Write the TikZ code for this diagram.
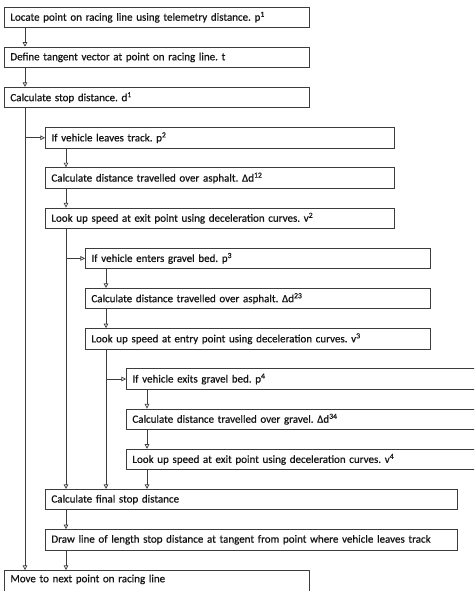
\documentclass[tikz,border=0pt]{standalone}
\usepackage{fontspec}
\setmainfont[FakeBold=0.6]{Carlito}
\usepackage{xcolor}
\usetikzlibrary{arrows.meta}
\tikzset{>={Triangle[open,length=4.6pt,width=4.6pt,line width=0.7pt]}}
\definecolor{linegray}{HTML}{3C3C3C}
\definecolor{textgray}{HTML}{141414}
\frenchspacing

\begin{document}
\begin{tikzpicture}[x=1pt,y=-1pt,font=\fontsize{11}{12}\selectfont,
	stepbox/.style={draw=linegray,line width=0.8pt,anchor=west,minimum height=20.5pt,inner xsep=6pt,align=left,text=textgray},
	wide/.style={stepbox,text width=293pt},
	mid/.style={stepbox,text width=337pt},
	inner/.style={stepbox,text width=333pt},
	cut/.style={stepbox,text width=400pt}]
	\useasboundingbox (0,0) rectangle (474,591);
	\clip (0,0) rectangle (474,591);
	\coordinate (ta) at (25,0);
	\coordinate (tb) at (66,0);
	\coordinate (tc) at (106,0);
	\coordinate (td) at (147,0);
	\node[wide] (b1) at (4,17.2) {Locate point on racing line using telemetry distance. p\textsuperscript{1}};
	\node[wide] (b2) at (4,57.4) {Define tangent vector at point on racing line. t};
	\node[wide] (b3) at (4,97.6) {Calculate stop distance. d\textsuperscript{1}};
	\node[mid] (b4) at (45,137.8) {If vehicle leaves track. p\textsuperscript{2}};
	\node[mid] (b5) at (45,178) {Calculate distance travelled over asphalt. Δd\textsuperscript{12}};
	\node[mid] (b6) at (45,218.2) {Look up speed at exit point using deceleration curves. v\textsuperscript{2}};
	\node[inner] (b7) at (85,258.4) {If vehicle enters gravel bed. p\textsuperscript{3}};
	\node[inner] (b8) at (85,298.6) {Calculate distance travelled over asphalt. Δd\textsuperscript{23}};
	\node[inner] (b9) at (85,338.8) {Look up speed at entry point using deceleration curves. v\textsuperscript{3}};
	\node[cut] (b10) at (126,379) {If vehicle exits gravel bed. p\textsuperscript{4}};
	\node[cut] (b11) at (126,419.2) {Calculate distance travelled over gravel. Δd\textsuperscript{34}};
	\node[cut] (b12) at (126,459.4) {Look up speed at exit point using deceleration curves. v\textsuperscript{4}};
	\node[cut] (b13) at (45,499.6) {Calculate final stop distance};
	\node[cut] (b14) at (45,539.8) {Draw line of length stop distance at tangent from point where vehicle leaves track};
	\node[wide,minimum height=40pt,anchor=north west,text depth=24pt] (b15) at (4,570) {Move to next point on racing line};
	% first column
	\draw[linegray,line width=0.8pt,->] (b1.south -| ta) -- (b2.north -| ta);
	\draw[linegray,line width=0.8pt,->] (b2.south -| ta) -- (b3.north -| ta);
	\draw[linegray,line width=0.8pt,->] (b3.south -| ta) -- (b15.north -| ta);
	\draw[linegray,line width=0.8pt,->] (b4.west -| ta) -- (b4.west);
	% second column
	\draw[linegray,line width=0.8pt,->] (b4.south -| tb) -- (b5.north -| tb);
	\draw[linegray,line width=0.8pt,->] (b5.south -| tb) -- (b6.north -| tb);
	\draw[linegray,line width=0.8pt,->] (b6.south -| tb) -- (b13.north -| tb);
	\draw[linegray,line width=0.8pt,->] (b7.west -| tb) -- (b7.west);
	% third column
	\draw[linegray,line width=0.8pt,->] (b7.south -| tc) -- (b8.north -| tc);
	\draw[linegray,line width=0.8pt,->] (b8.south -| tc) -- (b9.north -| tc);
	\draw[linegray,line width=0.8pt,->] (b9.south -| tc) -- (b13.north -| tc);
	\draw[linegray,line width=0.8pt,->] (b10.west -| tc) -- (b10.west);
	% fourth column
	\draw[linegray,line width=0.8pt,->] (b10.south -| td) -- (b11.north -| td);
	\draw[linegray,line width=0.8pt,->] (b11.south -| td) -- (b12.north -| td);
	\draw[linegray,line width=0.8pt,->] (b12.south -| td) -- (b13.north -| td);
	% closing steps
	\draw[linegray,line width=0.8pt,->] (b13.south -| tb) -- (b14.north -| tb);
	\draw[linegray,line width=0.8pt,->] (b14.south -| tb) -- (b15.north -| tb);
\end{tikzpicture}
\end{document}
